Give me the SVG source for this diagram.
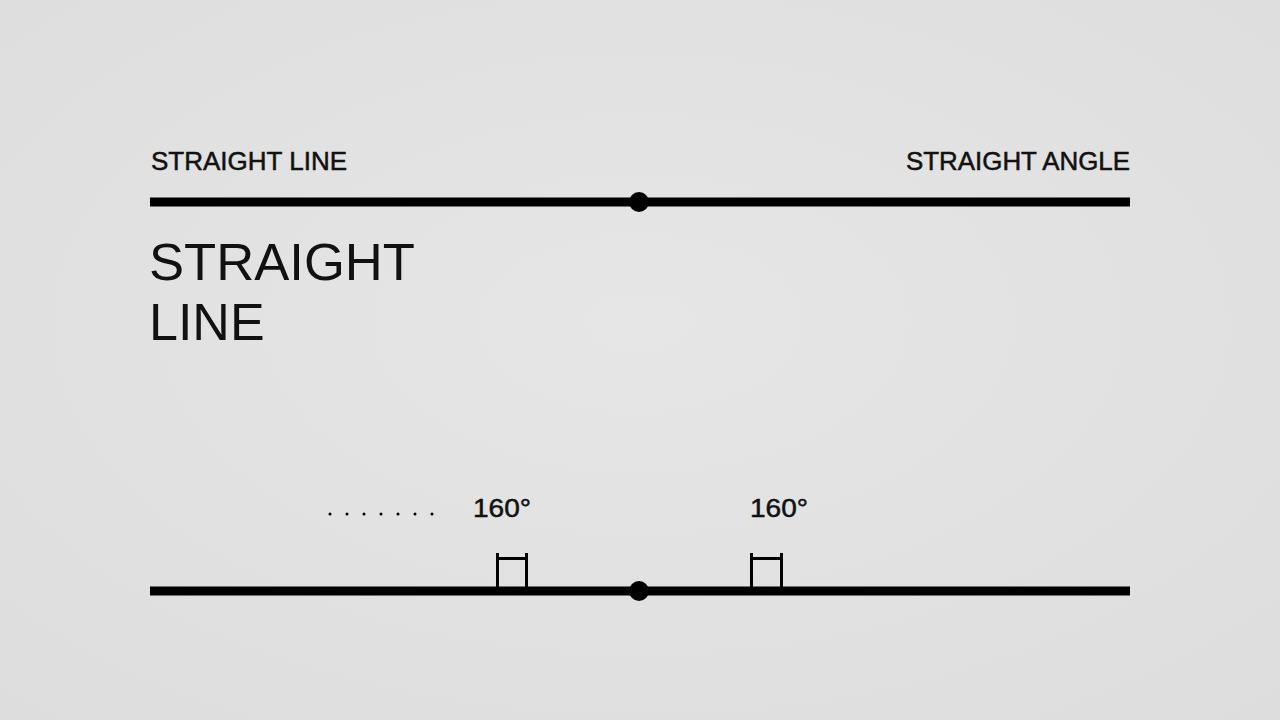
<svg xmlns="http://www.w3.org/2000/svg" width="1280" height="720" viewBox="0 0 1280 720">
  <defs>
    <radialGradient id="bg" cx="0.5" cy="0.45" r="0.75">
      <stop offset="0" stop-color="#e6e6e6"/>
      <stop offset="1" stop-color="#dddddd"/>
    </radialGradient>
    <style>
      .lbl { font-family: "Liberation Sans", Arial, sans-serif; fill: #111; }
      .small { font-size: 25px; stroke: #111; stroke-width: 0.5; }
      .big { font-size: 52px; }
      .deg { font-size: 25px; stroke: #111; stroke-width: 0.5; }
      .line { stroke: #000; stroke-width: 9; stroke-linecap: butt; }
      .brk { stroke: #000; stroke-width: 3; fill: none; }
      .dot { fill: #000; }
    </style>
  </defs>
  <rect width="1280" height="720" fill="url(#bg)"/>

  <g id="labels">
    <text class="lbl small" x="151" y="170" textLength="196" lengthAdjust="spacingAndGlyphs">STRAIGHT LINE</text>
    <text class="lbl small" x="906" y="170" textLength="224" lengthAdjust="spacingAndGlyphs">STRAIGHT ANGLE</text>
    <text class="lbl big" x="149" y="280" textLength="266" lengthAdjust="spacingAndGlyphs">STRAIGHT</text>
    <text class="lbl big" x="149" y="340">LINE</text>
  </g>

  <g id="connectors">
    <line class="line" x1="150" y1="202" x2="1130" y2="202"/>
    <line class="line" x1="150" y1="591" x2="1130" y2="591"/>
  </g>

  <g id="top-vertex"><circle class="dot" cx="639" cy="202" r="10"/></g>
  <g id="bottom-vertex"><circle class="dot" cx="639" cy="591" r="10"/></g>

  <g id="dots">
    <circle class="dot" cx="330" cy="514" r="1.5"/>
    <circle class="dot" cx="347" cy="514" r="1.5"/>
    <circle class="dot" cx="364" cy="514" r="1.5"/>
    <circle class="dot" cx="381" cy="514" r="1.5"/>
    <circle class="dot" cx="398" cy="514" r="1.5"/>
    <circle class="dot" cx="415" cy="514" r="1.5"/>
    <circle class="dot" cx="432" cy="514" r="1.5"/>
  </g>

  <g id="angle-left">
    <text class="lbl deg" x="473" y="517" textLength="58" lengthAdjust="spacingAndGlyphs">160°</text>
    <path class="brk" d="M497.5,553 V587 M526.5,553 V587 M497.5,558.5 H526.5"/>
  </g>
  <g id="angle-right">
    <text class="lbl deg" x="750" y="517" textLength="58" lengthAdjust="spacingAndGlyphs">160°</text>
    <path class="brk" d="M751.5,553 V587 M781.5,553 V587 M751.5,558.5 H781.5"/>
  </g>
</svg>
